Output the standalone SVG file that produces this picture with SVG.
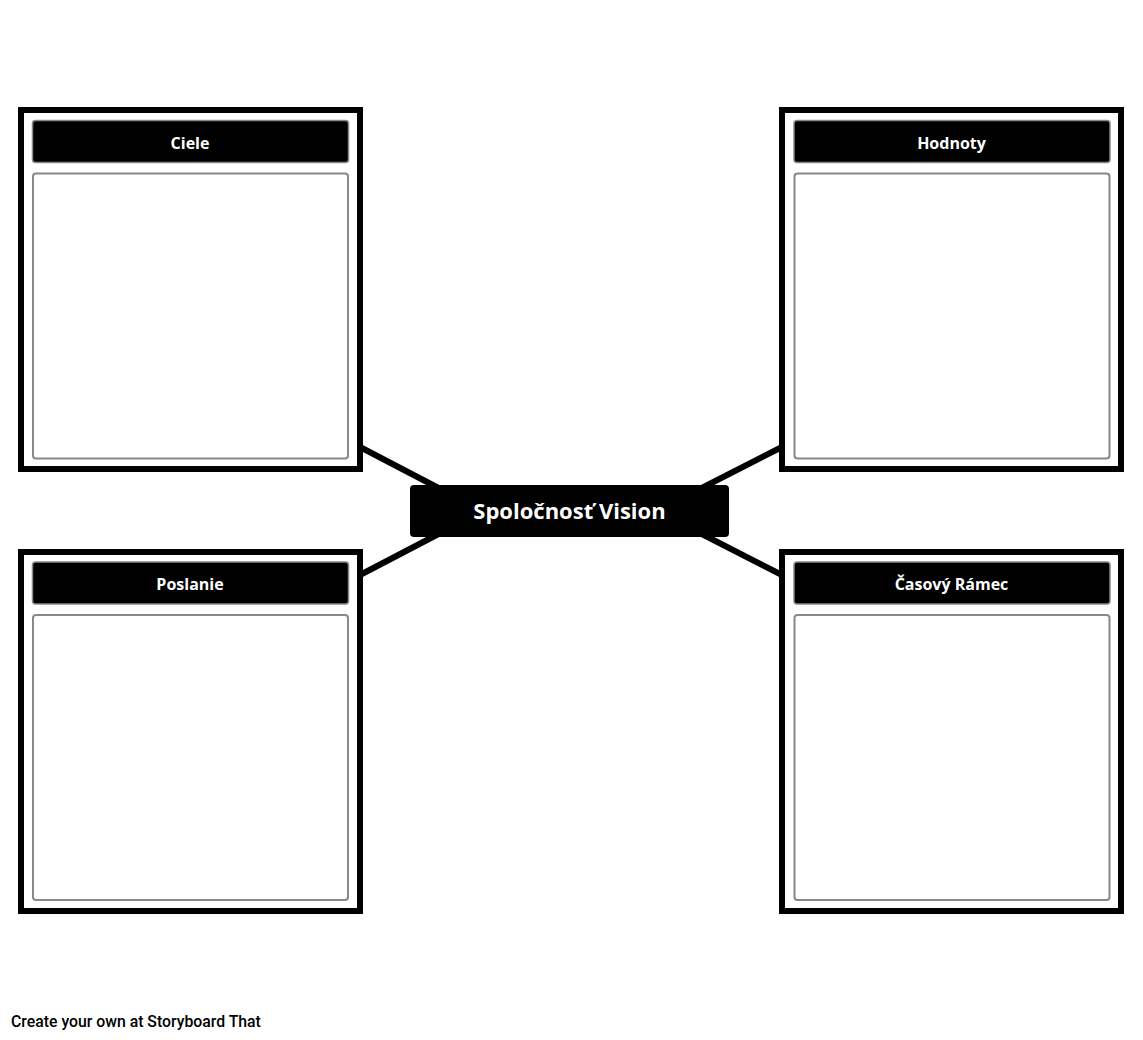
<svg xmlns="http://www.w3.org/2000/svg" width="1143" height="1040" viewBox="0 0 1143 1040">
<style>
.frame{fill:#fff;stroke:#000;stroke-width:6}
.head{fill:#000;stroke:#888;stroke-width:1.5}
.body{fill:#fff;stroke:#888;stroke-width:2}
.ht{fill:#fff;font-family:"Open Sans","Noto Sans",sans-serif;font-weight:bold;font-size:16px;text-anchor:middle}
.conn{stroke:#000;stroke-width:6;fill:none}
</style>
<rect width="1143" height="1040" fill="#fff"/>
<g id="connectors">
<line class="conn" x1="360" y1="447" x2="450" y2="494"/>
<line class="conn" x1="360" y1="575" x2="450" y2="528"/>
<line class="conn" x1="782" y1="447" x2="690" y2="494"/>
<line class="conn" x1="782" y1="575" x2="690" y2="528"/>
</g>
<g id="ciele">
<rect class="frame" x="21" y="110" width="339" height="359"/>
<rect class="head" x="32.5" y="120.5" width="316" height="42" rx="3"/>
<rect class="body" x="33" y="173.5" width="315" height="285" rx="3"/>
<text class="ht" x="190" y="149">Ciele</text>
</g>
<g id="hodnoty">
<rect class="frame" x="782" y="110" width="339" height="359"/>
<rect class="head" x="794" y="120.5" width="316" height="42" rx="3"/>
<rect class="body" x="794.5" y="173.5" width="315" height="285" rx="3"/>
<text class="ht" x="951.5" y="149">Hodnoty</text>
</g>
<g id="poslanie">
<rect class="frame" x="21" y="552" width="339" height="359"/>
<rect class="head" x="32.5" y="562" width="316" height="42" rx="3"/>
<rect class="body" x="33" y="615" width="315" height="285" rx="3"/>
<text class="ht" x="190" y="590">Poslanie</text>
</g>
<g id="casovy-ramec">
<rect class="frame" x="782" y="552" width="339" height="359"/>
<rect class="head" x="794" y="562" width="316" height="42" rx="3"/>
<rect class="body" x="794.5" y="615" width="315" height="285" rx="3"/>
<text class="ht" x="951.5" y="590">Časový Rámec</text>
</g>
<g id="center">
<rect x="410" y="485" width="319" height="52" rx="4" fill="#000"/>
<text x="569.5" y="519" fill="#fff" font-family="'Open Sans','Noto Sans',sans-serif" font-weight="bold" font-size="22" text-anchor="middle">Spoločnosť Vision</text>
</g>
<text x="11" y="1027" font-family="Roboto,'Liberation Sans',sans-serif" font-weight="500" font-size="15.8" fill="#000">Create your own at Storyboard That</text>
</svg>
